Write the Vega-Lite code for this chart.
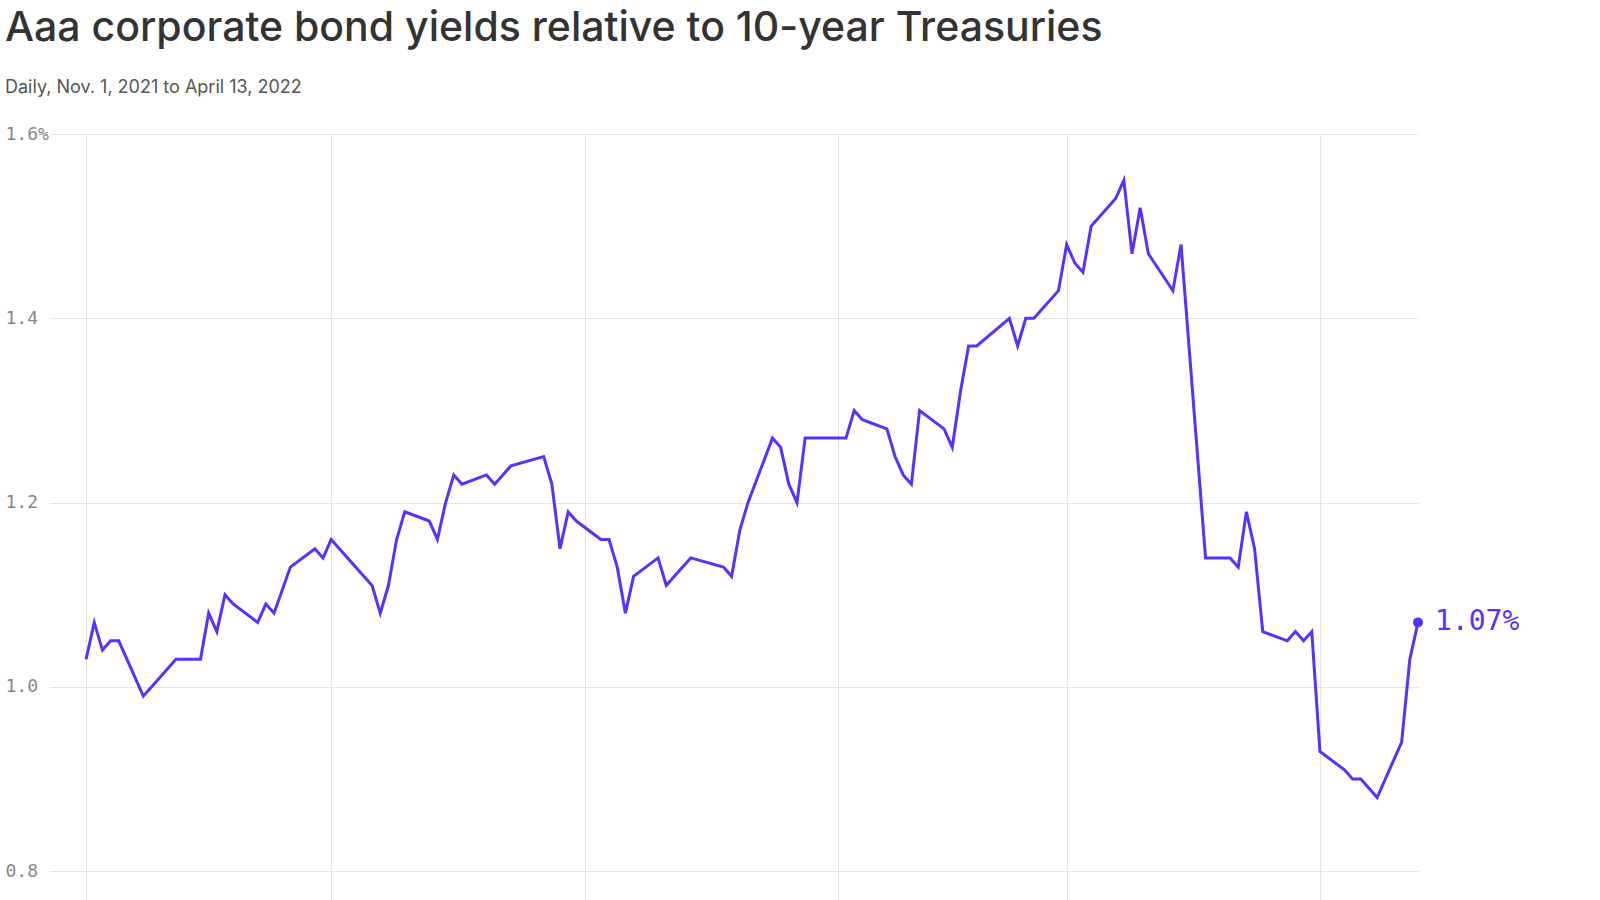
{
  "$schema": "https://vega.github.io/schema/vega-lite/v6.json",
  "width": 1368,
  "height": 768,
  "padding": {"left": 5, "top": 8, "right": 0, "bottom": 0},
  "background": "white",
  "title": {
    "text": "Aaa corporate bond yields relative to 10-year Treasuries",
    "subtitle": "Daily, Nov. 1, 2021 to April 13, 2022",
    "anchor": "start",
    "frame": "bounds",
    "font": "Inter",
    "fontSize": 41,
    "fontWeight": 500,
    "color": "#333333",
    "subtitleFont": "Inter",
    "subtitleFontSize": 18,
    "subtitleColor": "#555555",
    "subtitlePadding": 29,
    "offset": 27
  },
  "config": {
    "view": {"stroke": null},
    "axis": {"gridColor": "#e4e4e4", "gridWidth": 1}
  },
  "datasets": {
    "spread": [
      {"date": "2021-11-01", "value": 1.03},
      {"date": "2021-11-02", "value": 1.07},
      {"date": "2021-11-03", "value": 1.04},
      {"date": "2021-11-04", "value": 1.05},
      {"date": "2021-11-05", "value": 1.05},
      {"date": "2021-11-08", "value": 0.99},
      {"date": "2021-11-09", "value": 1.00},
      {"date": "2021-11-10", "value": 1.01},
      {"date": "2021-11-12", "value": 1.03},
      {"date": "2021-11-15", "value": 1.03},
      {"date": "2021-11-16", "value": 1.08},
      {"date": "2021-11-17", "value": 1.06},
      {"date": "2021-11-18", "value": 1.10},
      {"date": "2021-11-19", "value": 1.09},
      {"date": "2021-11-22", "value": 1.07},
      {"date": "2021-11-23", "value": 1.09},
      {"date": "2021-11-24", "value": 1.08},
      {"date": "2021-11-26", "value": 1.13},
      {"date": "2021-11-29", "value": 1.15},
      {"date": "2021-11-30", "value": 1.14},
      {"date": "2021-12-01", "value": 1.16},
      {"date": "2021-12-02", "value": 1.15},
      {"date": "2021-12-03", "value": 1.14},
      {"date": "2021-12-06", "value": 1.11},
      {"date": "2021-12-07", "value": 1.08},
      {"date": "2021-12-08", "value": 1.11},
      {"date": "2021-12-09", "value": 1.16},
      {"date": "2021-12-10", "value": 1.19},
      {"date": "2021-12-13", "value": 1.18},
      {"date": "2021-12-14", "value": 1.16},
      {"date": "2021-12-15", "value": 1.20},
      {"date": "2021-12-16", "value": 1.23},
      {"date": "2021-12-17", "value": 1.22},
      {"date": "2021-12-20", "value": 1.23},
      {"date": "2021-12-21", "value": 1.22},
      {"date": "2021-12-22", "value": 1.23},
      {"date": "2021-12-23", "value": 1.24},
      {"date": "2021-12-27", "value": 1.25},
      {"date": "2021-12-28", "value": 1.22},
      {"date": "2021-12-29", "value": 1.15},
      {"date": "2021-12-30", "value": 1.19},
      {"date": "2021-12-31", "value": 1.18},
      {"date": "2022-01-03", "value": 1.16},
      {"date": "2022-01-04", "value": 1.16},
      {"date": "2022-01-05", "value": 1.13},
      {"date": "2022-01-06", "value": 1.08},
      {"date": "2022-01-07", "value": 1.12},
      {"date": "2022-01-10", "value": 1.14},
      {"date": "2022-01-11", "value": 1.11},
      {"date": "2022-01-12", "value": 1.12},
      {"date": "2022-01-13", "value": 1.13},
      {"date": "2022-01-14", "value": 1.14},
      {"date": "2022-01-18", "value": 1.13},
      {"date": "2022-01-19", "value": 1.12},
      {"date": "2022-01-20", "value": 1.17},
      {"date": "2022-01-21", "value": 1.20},
      {"date": "2022-01-24", "value": 1.27},
      {"date": "2022-01-25", "value": 1.26},
      {"date": "2022-01-26", "value": 1.22},
      {"date": "2022-01-27", "value": 1.20},
      {"date": "2022-01-28", "value": 1.27},
      {"date": "2022-01-31", "value": 1.27},
      {"date": "2022-02-01", "value": 1.27},
      {"date": "2022-02-02", "value": 1.27},
      {"date": "2022-02-03", "value": 1.30},
      {"date": "2022-02-04", "value": 1.29},
      {"date": "2022-02-07", "value": 1.28},
      {"date": "2022-02-08", "value": 1.25},
      {"date": "2022-02-09", "value": 1.23},
      {"date": "2022-02-10", "value": 1.22},
      {"date": "2022-02-11", "value": 1.30},
      {"date": "2022-02-14", "value": 1.28},
      {"date": "2022-02-15", "value": 1.26},
      {"date": "2022-02-16", "value": 1.32},
      {"date": "2022-02-17", "value": 1.37},
      {"date": "2022-02-18", "value": 1.37},
      {"date": "2022-02-22", "value": 1.40},
      {"date": "2022-02-23", "value": 1.37},
      {"date": "2022-02-24", "value": 1.40},
      {"date": "2022-02-25", "value": 1.40},
      {"date": "2022-02-28", "value": 1.43},
      {"date": "2022-03-01", "value": 1.48},
      {"date": "2022-03-02", "value": 1.46},
      {"date": "2022-03-03", "value": 1.45},
      {"date": "2022-03-04", "value": 1.50},
      {"date": "2022-03-07", "value": 1.53},
      {"date": "2022-03-08", "value": 1.55},
      {"date": "2022-03-09", "value": 1.47},
      {"date": "2022-03-10", "value": 1.52},
      {"date": "2022-03-11", "value": 1.47},
      {"date": "2022-03-14", "value": 1.43},
      {"date": "2022-03-15", "value": 1.48},
      {"date": "2022-03-18", "value": 1.14},
      {"date": "2022-03-21", "value": 1.14},
      {"date": "2022-03-22", "value": 1.13},
      {"date": "2022-03-23", "value": 1.19},
      {"date": "2022-03-24", "value": 1.15},
      {"date": "2022-03-25", "value": 1.06},
      {"date": "2022-03-28", "value": 1.05},
      {"date": "2022-03-29", "value": 1.06},
      {"date": "2022-03-30", "value": 1.05},
      {"date": "2022-03-31", "value": 1.06},
      {"date": "2022-04-01", "value": 0.93},
      {"date": "2022-04-04", "value": 0.91},
      {"date": "2022-04-05", "value": 0.90},
      {"date": "2022-04-06", "value": 0.90},
      {"date": "2022-04-07", "value": 0.89},
      {"date": "2022-04-08", "value": 0.88},
      {"date": "2022-04-11", "value": 0.94},
      {"date": "2022-04-12", "value": 1.03},
      {"date": "2022-04-13", "value": 1.07}
    ],
    "latest": [
      {"date": "2022-04-13", "value": 1.07, "label": "1.07%"}
    ]
  },
  "encoding": {
    "x": {
      "field": "date",
      "type": "temporal",
      "scale": {
        "type": "utc",
        "domain": [
          {"year": 2021, "month": 10, "date": 27, "hours": 14, "utc": true},
          {"year": 2022, "month": 4, "date": 13, "utc": true}
        ]
      },
      "axis": {
        "title": null,
        "labels": false,
        "ticks": false,
        "domain": false,
        "grid": true,
        "tickCount": "month"
      }
    },
    "y": {
      "field": "value",
      "type": "quantitative",
      "scale": {"domain": [0.7666, 1.6], "nice": false, "zero": false},
      "axis": {
        "title": null,
        "domain": false,
        "ticks": false,
        "grid": true,
        "values": [0.8, 1.0, 1.2, 1.4, 1.6],
        "labelAlign": "left",
        "labelBaseline": "middle",
        "labelPadding": 45,
        "labelFont": "DejaVu Sans Mono",
        "labelFontSize": 18,
        "labelColor": "#888888",
        "labelExpr": "datum.value > 1.59 ? format(datum.value, '.1f') + '%' : format(datum.value, '.1f')"
      }
    }
  },
  "layer": [
    {
      "data": {"name": "spread"},
      "mark": {"type": "line", "color": "#5b2fff", "strokeWidth": 3, "strokeJoin": "miter"}
    },
    {
      "data": {"name": "latest"},
      "mark": {"type": "circle", "color": "#5b2fff", "opacity": 1, "size": 100}
    },
    {
      "data": {"name": "latest"},
      "mark": {
        "type": "text",
        "color": "#5b2fff",
        "align": "left",
        "baseline": "middle",
        "dx": 17,
        "font": "DejaVu Sans Mono",
        "fontSize": 28
      },
      "encoding": {"text": {"field": "label"}}
    }
  ]
}
